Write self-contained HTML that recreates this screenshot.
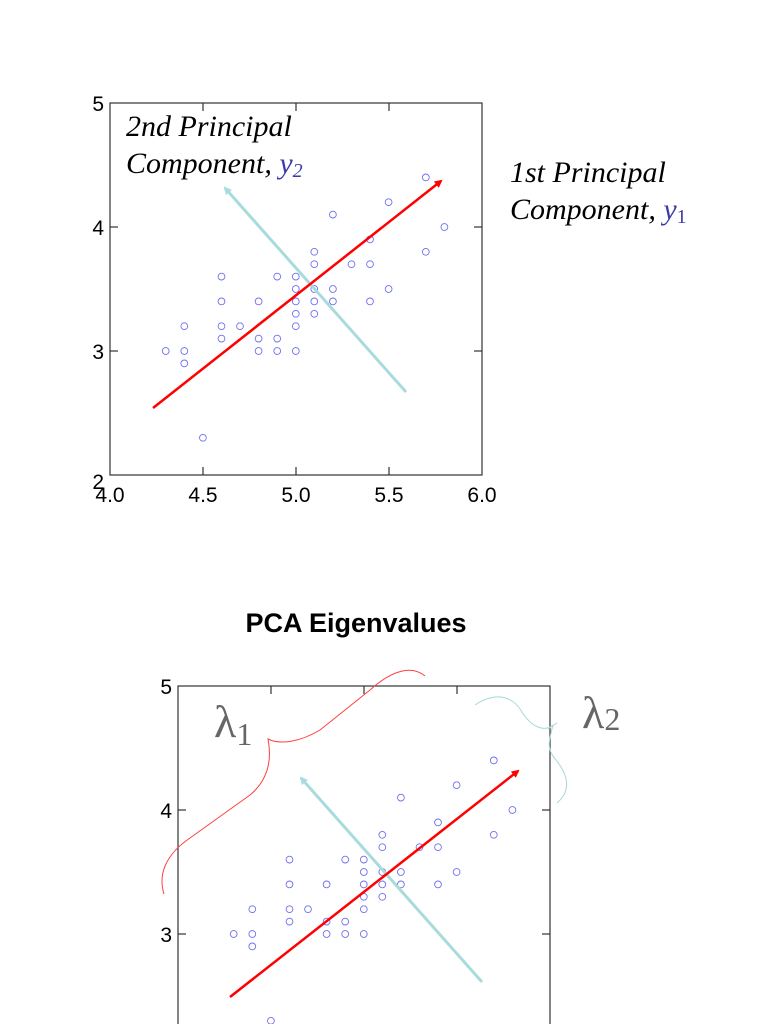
<!DOCTYPE html>
<html><head><meta charset="utf-8"><style>
html,body{margin:0;padding:0;background:#fff;}
svg{display:block;}
</style></head><body>
<svg width="768" height="1024" viewBox="0 0 768 1024" xmlns="http://www.w3.org/2000/svg">
<defs>
<marker id="ar" markerWidth="8" markerHeight="8" refX="6" refY="4" orient="auto" markerUnits="userSpaceOnUse"><path d="M0,0 L8,4 L0,8 z" fill="#ff0000"/></marker>
<marker id="ac" markerWidth="8" markerHeight="8" refX="6" refY="4" orient="auto" markerUnits="userSpaceOnUse"><path d="M0,0 L8,4 L0,8 z" fill="#a8dcdc"/></marker>
<g id="plot">
<rect x="110" y="103" width="372" height="372" fill="none" stroke="#333" stroke-width="1.2"/>
<g stroke="#333" stroke-width="1.2">
<line x1="203" y1="103" x2="203" y2="111"/><line x1="296" y1="103" x2="296" y2="111"/><line x1="389" y1="103" x2="389" y2="111"/>
<line x1="203" y1="475" x2="203" y2="467"/><line x1="296" y1="475" x2="296" y2="467"/><line x1="389" y1="475" x2="389" y2="467"/>
<line x1="110" y1="227" x2="118" y2="227"/><line x1="110" y1="351" x2="118" y2="351"/>
<line x1="482" y1="227" x2="474" y2="227"/><line x1="482" y1="351" x2="474" y2="351"/>
</g>
<g fill="none" stroke="#7070f0" stroke-width="0.9">
<circle cx="165.7" cy="351" r="3.4"/><circle cx="184.3" cy="326.2" r="3.4"/><circle cx="184.3" cy="351" r="3.4"/><circle cx="184.3" cy="363.4" r="3.4"/>
<circle cx="202.9" cy="437.8" r="3.4"/><circle cx="221.5" cy="276.6" r="3.4"/><circle cx="221.5" cy="301.4" r="3.4"/><circle cx="221.5" cy="326.2" r="3.4"/><circle cx="221.5" cy="338.6" r="3.4"/>
<circle cx="240" cy="326.2" r="3.4"/><circle cx="258.6" cy="301.4" r="3.4"/><circle cx="258.6" cy="338.6" r="3.4"/><circle cx="258.6" cy="351" r="3.4"/>
<circle cx="277.2" cy="276.6" r="3.4"/><circle cx="277.2" cy="338.6" r="3.4"/><circle cx="277.2" cy="351" r="3.4"/>
<circle cx="295.8" cy="276.6" r="3.4"/><circle cx="295.8" cy="289" r="3.4"/><circle cx="295.8" cy="301.4" r="3.4"/><circle cx="295.8" cy="313.8" r="3.4"/><circle cx="295.8" cy="326.2" r="3.4"/><circle cx="295.8" cy="351" r="3.4"/>
<circle cx="314.3" cy="251.8" r="3.4"/><circle cx="314.3" cy="264.2" r="3.4"/><circle cx="314.3" cy="289" r="3.4"/><circle cx="314.3" cy="301.4" r="3.4"/><circle cx="314.3" cy="313.8" r="3.4"/>
<circle cx="332.9" cy="214.6" r="3.4"/><circle cx="332.9" cy="289" r="3.4"/><circle cx="332.9" cy="301.4" r="3.4"/>
<circle cx="351.5" cy="264.2" r="3.4"/><circle cx="370" cy="239.4" r="3.4"/><circle cx="370" cy="264.2" r="3.4"/><circle cx="370" cy="301.4" r="3.4"/>
<circle cx="388.6" cy="202.2" r="3.4"/><circle cx="388.6" cy="289" r="3.4"/>
<circle cx="425.8" cy="177.4" r="3.4"/><circle cx="425.8" cy="251.8" r="3.4"/><circle cx="444.4" cy="227" r="3.4"/>
</g>
<g font-family="Liberation Sans, Arial, sans-serif" font-size="21" fill="#000">
<text x="104" y="111" text-anchor="end">5</text>
<text x="104" y="235" text-anchor="end">4</text>
<text x="104" y="359" text-anchor="end">3</text>
</g>
</g>
</defs>
<use href="#plot"/>
<line x1="406" y1="392" x2="225" y2="188" stroke="#a8dcdc" stroke-width="3" marker-end="url(#ac)"/>
<line x1="153" y1="408" x2="441" y2="181" stroke="#ff0000" stroke-width="2.5" marker-end="url(#ar)"/>
<g font-family="Liberation Sans, Arial, sans-serif" font-size="21" fill="#000">
<text x="104" y="489" text-anchor="end">2</text>
<text x="110" y="502" text-anchor="middle">4.0</text>
<text x="203" y="502" text-anchor="middle">4.5</text>
<text x="296" y="502" text-anchor="middle">5.0</text>
<text x="389" y="502" text-anchor="middle">5.5</text>
<text x="482" y="502" text-anchor="middle">6.0</text>
</g>
<g font-family="Liberation Serif, serif" font-style="italic" font-size="30" fill="#000">
<text x="126" y="136">2nd Principal</text>
<text x="126" y="173">Component, <tspan fill="#3a3aa8">y</tspan><tspan fill="#3a3aa8" font-size="20" dy="4">2</tspan></text>
<text x="510" y="182">1st Principal</text>
<text x="510" y="219">Component, <tspan fill="#3a3aa8">y</tspan><tspan fill="#3a3aa8" font-size="20" font-style="normal" dy="4">1</tspan></text>
</g>
<text x="356" y="632" text-anchor="middle" font-family="Liberation Sans, Arial, sans-serif" font-weight="bold" font-size="27" fill="#000">PCA Eigenvalues</text>
<use href="#plot" transform="translate(68,583)"/>
<line x1="482" y1="982" x2="301" y2="778" stroke="#a8dcdc" stroke-width="3" marker-end="url(#ac)"/>
<line x1="230" y1="997" x2="518" y2="771" stroke="#ff0000" stroke-width="2.5" marker-end="url(#ar)"/>
<g font-family="Liberation Serif, serif" font-size="46" fill="#666">
<text x="214" y="737">λ<tspan font-size="32" dy="8">1</tspan></text>
<text x="582" y="728">λ<tspan font-size="32" dy="2">2</tspan></text>
</g>
<path d="M164,894 C158,875 165,855 190,838 L250,795 C268,780 272,760 268,739 C280,745 300,742 320,730 L370,690 C392,670 412,665 425,676" fill="none" stroke="#ff4040" stroke-width="1"/>
<path d="M475,705 C495,692 512,695 522,712 C532,728 545,732 553,725 M553,725 C550,738 545,748 556,760 C568,775 572,790 557,803 M548,729 L557,723" fill="none" stroke="#a8d8d8" stroke-width="1"/>
</svg>
</body></html>
